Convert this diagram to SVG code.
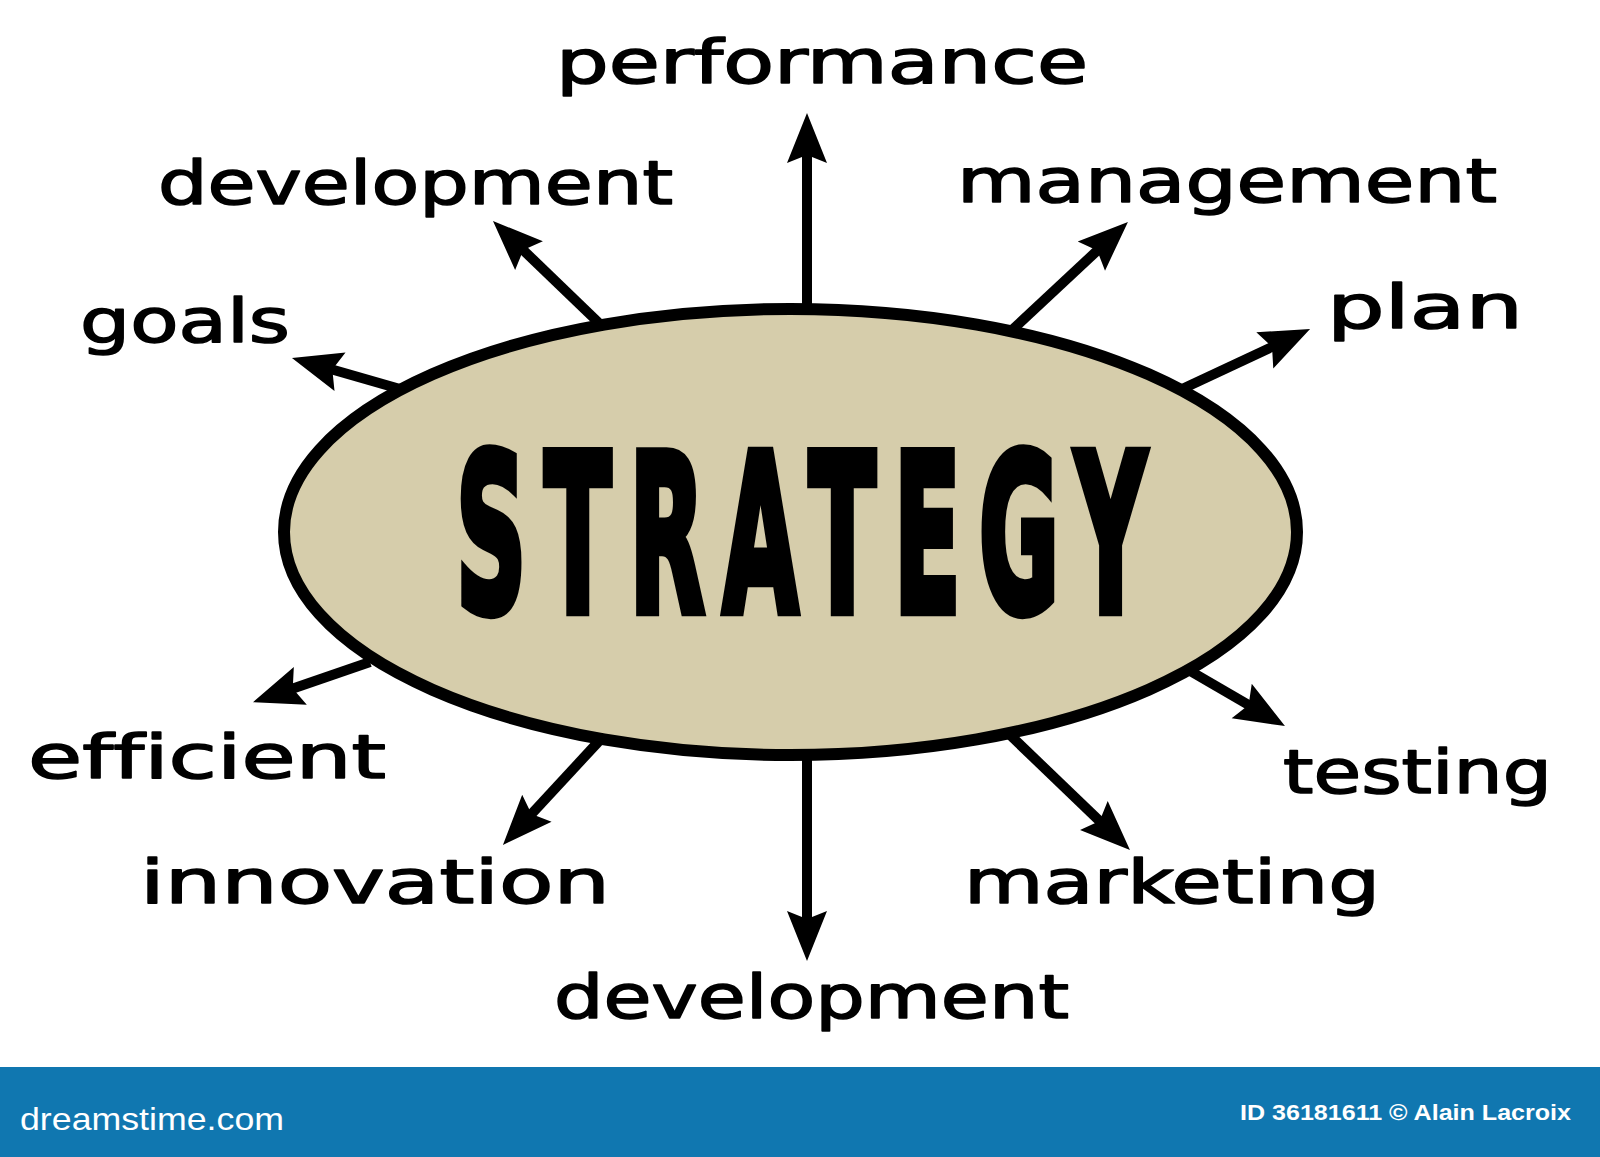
<svg xmlns="http://www.w3.org/2000/svg" width="1600" height="1157" viewBox="0 0 1600 1157">
<style>
.lbl{font-family:"DejaVu Sans","Liberation Sans",sans-serif;font-size:60px;font-weight:normal;fill:#000;stroke:#000;stroke-width:1.5;stroke-linejoin:round;font-variant-ligatures:none}
.conn{stroke:#000;stroke-width:10;fill:none;marker-end:url(#ah)}
.foot{font-family:"Liberation Sans","DejaVu Sans",sans-serif;fill:#fff}
</style>
<defs>
<marker id="ah" markerUnits="userSpaceOnUse" orient="auto" refX="0" refY="0" markerWidth="60" markerHeight="50" overflow="visible">
<path d="M30,0 L-20,-20 L-12,0 L-20,20 Z" fill="#000"/>
</marker>
</defs>
<rect width="1600" height="1157" fill="#fff"/>
<g id="connectors">
<line class="conn" x1="807" y1="320" x2="807" y2="143"/>
<line class="conn" x1="600" y1="324" x2="514.6" y2="241.8"/>
<line class="conn" x1="1010" y1="332" x2="1106" y2="242.4"/>
<line class="conn" x1="400" y1="389" x2="320.8" y2="366.3"/>
<line class="conn" x1="1180" y1="390" x2="1282.9" y2="341.8"/>
<line class="conn" x1="370" y1="662" x2="281.4" y2="692.4"/>
<line class="conn" x1="600" y1="740" x2="523.3" y2="822.9"/>
<line class="conn" x1="1185" y1="668" x2="1259" y2="711"/>
<line class="conn" x1="1010" y1="735" x2="1108.3" y2="829.3"/>
<line class="conn" x1="807" y1="745" x2="807" y2="931"/>
</g>
<g id="strategy">
<ellipse cx="790.5" cy="532" rx="506.5" ry="223" fill="#d6cdab" stroke="#000" stroke-width="12"/>
<g transform="translate(456,611) scale(0.45,1)">
<text x="0" y="0" font-family="'DejaVu Sans','Liberation Sans',sans-serif" font-weight="bold" font-size="217" textLength="1533" lengthAdjust="spacing" fill="#000" stroke="#000" stroke-width="8" stroke-linejoin="miter" vector-effect="non-scaling-stroke">STRATEGY</text>
</g>
</g>
<g id="performance"><text class="lbl" x="556" y="83" textLength="532" lengthAdjust="spacingAndGlyphs">performance</text></g>
<g id="development-top"><text class="lbl" x="158" y="204" textLength="515" lengthAdjust="spacingAndGlyphs">development</text></g>
<g id="management"><text class="lbl" x="957" y="202" textLength="540" lengthAdjust="spacingAndGlyphs">management</text></g>
<g id="goals"><text class="lbl" x="80" y="342" textLength="210" lengthAdjust="spacingAndGlyphs">goals</text></g>
<g id="plan"><text class="lbl" x="1327" y="328" textLength="196" lengthAdjust="spacingAndGlyphs">plan</text></g>
<g id="efficient"><text class="lbl" x="28" y="778" textLength="358" lengthAdjust="spacingAndGlyphs">efficient</text></g>
<g id="testing"><text class="lbl" x="1283" y="793" textLength="269" lengthAdjust="spacingAndGlyphs">testing</text></g>
<g id="innovation"><text class="lbl" x="140" y="903" textLength="470" lengthAdjust="spacingAndGlyphs">innovation</text></g>
<g id="marketing"><text class="lbl" x="964" y="903" textLength="416" lengthAdjust="spacingAndGlyphs">marketing</text></g>
<g id="development-bottom"><text class="lbl" x="554" y="1018" textLength="515" lengthAdjust="spacingAndGlyphs">development</text></g>
<g id="footer">
<rect x="0" y="1067" width="1600" height="90" fill="#1077b0"/>
<text class="foot" x="20" y="1130" font-size="32" textLength="264" lengthAdjust="spacingAndGlyphs">dreamstime.com</text>
<text class="foot" x="1240" y="1120" font-size="22" font-weight="bold" textLength="331" lengthAdjust="spacingAndGlyphs">ID 36181611 © Alain Lacroix</text>
</g>
</svg>
